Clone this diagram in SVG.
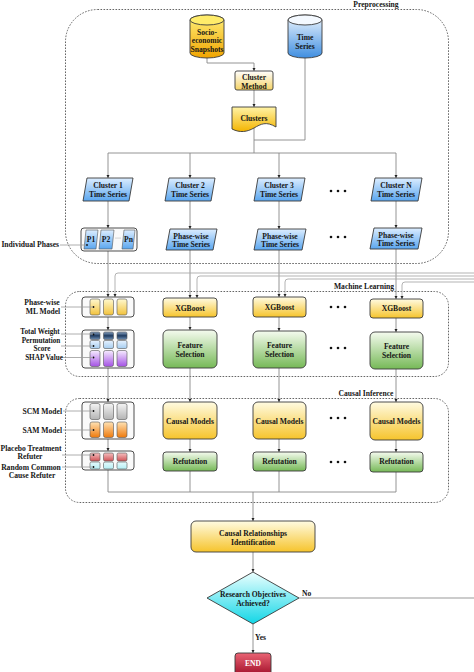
<svg xmlns="http://www.w3.org/2000/svg" width="474" height="672" viewBox="0 0 474 672">
<defs>
<linearGradient id="gYCyl" x1="0" y1="0" x2="0" y2="1"><stop offset="0" stop-color="#fff07a"/><stop offset="1" stop-color="#f0a400"/></linearGradient>
<linearGradient id="gBCyl" x1="0" y1="0" x2="0" y2="1"><stop offset="0" stop-color="#eef6ff"/><stop offset="1" stop-color="#3f8ee0"/></linearGradient>
<linearGradient id="gBPar" x1="0" y1="0" x2="0" y2="1"><stop offset="0" stop-color="#dcedff"/><stop offset="1" stop-color="#5aa6ef"/></linearGradient>
<linearGradient id="gYBox" x1="0" y1="0" x2="0" y2="1"><stop offset="0" stop-color="#fffbe2"/><stop offset="1" stop-color="#f6c42c"/></linearGradient>
<linearGradient id="gGreen" x1="0" y1="0" x2="0" y2="1"><stop offset="0" stop-color="#f5fbef"/><stop offset="1" stop-color="#76b957"/></linearGradient>
<linearGradient id="gRed" x1="0" y1="0" x2="0" y2="1"><stop offset="0" stop-color="#ea6474"/><stop offset="1" stop-color="#a3102a"/></linearGradient>
<linearGradient id="gCyan" x1="0" y1="0" x2="0" y2="1"><stop offset="0" stop-color="#ecffff"/><stop offset="1" stop-color="#12d6e6"/></linearGradient>
<linearGradient id="gCM" x1="0" y1="0" x2="0" y2="1"><stop offset="0" stop-color="#ffffff"/><stop offset="1" stop-color="#f4d264"/></linearGradient>
<linearGradient id="gDoc" x1="0" y1="0" x2="0" y2="1"><stop offset="0" stop-color="#fff3a6"/><stop offset="1" stop-color="#f3b400"/></linearGradient>
<linearGradient id="gSY" x1="0" y1="0" x2="0" y2="1"><stop offset="0" stop-color="#fff9d0"/><stop offset="1" stop-color="#f2c23c"/></linearGradient>
<linearGradient id="gSGray" x1="0" y1="0" x2="0" y2="1"><stop offset="0" stop-color="#f4f4f4"/><stop offset="1" stop-color="#b4b4b4"/></linearGradient>
<linearGradient id="gSOr" x1="0" y1="0" x2="0" y2="1"><stop offset="0" stop-color="#ffe2b4"/><stop offset="1" stop-color="#ee7a0c"/></linearGradient>
<linearGradient id="gSRed" x1="0" y1="0" x2="0" y2="1"><stop offset="0" stop-color="#f6c0c0"/><stop offset="1" stop-color="#d05458"/></linearGradient>
<linearGradient id="gSCy" x1="0" y1="0" x2="0" y2="1"><stop offset="0" stop-color="#e6fbfd"/><stop offset="1" stop-color="#b4eef4"/></linearGradient>
<linearGradient id="gSDB" x1="0" y1="0" x2="0" y2="1"><stop offset="0" stop-color="#8aa4c4"/><stop offset="0.5" stop-color="#1f3b60"/><stop offset="1" stop-color="#6f8fb4"/></linearGradient>
<linearGradient id="gSLB" x1="0" y1="0" x2="0" y2="1"><stop offset="0" stop-color="#e6f2ff"/><stop offset="1" stop-color="#a6cdf0"/></linearGradient>
<linearGradient id="gSPu" x1="0" y1="0" x2="0" y2="1"><stop offset="0" stop-color="#f6ecff"/><stop offset="1" stop-color="#a452e4"/></linearGradient>
<marker id="arr" viewBox="0 0 6 6" refX="6" refY="3" markerWidth="3.5" markerHeight="3.5" markerUnits="userSpaceOnUse" orient="auto"><path d="M0,0 L6,3 L0,6 z" fill="#222"/></marker>
</defs>
<style>
text{font-family:"Liberation Serif","Times New Roman",serif;font-weight:bold;font-size:7.6px;fill:#151515;text-anchor:middle}
.l{text-anchor:end}
.s{text-anchor:start}
.sm{font-size:7.2px}
.sec{fill:none;stroke:#555;stroke-width:0.9;stroke-dasharray:1.6 1.4}
.nb{stroke:#3a3a3a;stroke-width:0.9}
.in{stroke:#555;stroke-width:0.6}
.ct{fill:#fafafa;stroke:#3a3a3a;stroke-width:0.9}
.c{fill:none;stroke:#888;stroke-width:0.9}
.a{marker-end:url(#arr)}
.fb{fill:none;stroke:#aaa;stroke-width:0.9}
.no{fill:none;stroke:#999;stroke-width:1.2}
.lead{fill:none;stroke:#999;stroke-width:0.8}
.dot{fill:#111}
</style>

<g id="sections">
<rect class="sec" x="65.5" y="9.5" width="383" height="254" rx="32"/>
<text x="376" y="6.5">Preprocessing</text>
<rect class="sec" x="65.5" y="291.5" width="383" height="85" rx="14"/>
<text x="364" y="288.5">Machine Learning</text>
<rect class="sec" x="65.5" y="398.5" width="383" height="104" rx="14"/>
<text x="366" y="395.5">Causal Inference</text>
</g>

<g id="connectors">
<path class="c a" d="M207,58 V63 H254 V71"/>
<path class="c a" d="M254,90 V107"/>
<path class="c" d="M305,58 V140 H254"/>
<path class="c" d="M254,128 V153"/>
<path class="c" d="M108,153 H396"/>
<path class="c a" d="M108,153 V178"/>
<path class="c a" d="M190,153 V178"/>
<path class="c a" d="M279,153 V178"/>
<path class="c a" d="M396,153 V178"/>
<path class="c a" d="M108,201 V228"/>
<path class="c a" d="M190,201 V229"/>
<path class="c a" d="M279,201 V229"/>
<path class="c a" d="M396,201 V228"/>
<path class="c a" d="M108,251 V297"/>
<path class="c a" d="M190,250 V298"/>
<path class="c a" d="M279,250 V297"/>
<path class="c a" d="M396,249 V299"/>
<path class="fb a" d="M480,273 H118 Q115,273 115,276 V297"/>
<path class="fb a" d="M480,276 H200 Q197,276 197,279 V298"/>
<path class="fb a" d="M480,279 H288 Q285,279 285,282 V297"/>
<path class="fb a" d="M480,282 H405 Q402,282 402,285 V299"/>
<path class="c a" d="M108,317 V330"/>
<path class="c a" d="M190,317 V330"/>
<path class="c a" d="M279,317 V331"/>
<path class="c a" d="M396,318 V332"/>
<path class="c a" d="M108,368 V402"/>
<path class="c a" d="M190,368 V402"/>
<path class="c a" d="M279,368 V402"/>
<path class="c a" d="M396,369 V402"/>
<path class="c a" d="M108,439 V451"/>
<path class="c a" d="M190,439 V452"/>
<path class="c a" d="M279,439 V452"/>
<path class="c a" d="M396,440 V452"/>
<path class="c" d="M108,470 V492 H396 V472"/>
<path class="c" d="M190,471 V492"/>
<path class="c" d="M279,471 V492"/>
<path class="c a" d="M253,492 V521"/>
<path class="c a" d="M253,552 V572"/>
<path class="c a" d="M253,624 V653"/>
<path class="no" d="M299,598 H480 V273"/>
<text class="s" x="302" y="595.5">No</text>
<text class="s" x="255" y="639.5">Yes</text>
</g>

<g id="socio">
<path class="nb" fill="url(#gYCyl)" d="M190,20 A17,5 0 0 1 224,20 V53 A17,5 0 0 1 190,53 Z"/>
<ellipse cx="207" cy="20" rx="17" ry="5" fill="#ffec6a" class="nb"/>
<text x="207" y="34.5">Socio-</text><text x="207" y="43">economic</text><text x="207" y="51.5">Snapshots</text>
</g>
<g id="timeseries">
<path class="nb" fill="url(#gBCyl)" d="M288,20 A17,5 0 0 1 322,20 V53 A17,5 0 0 1 288,53 Z"/>
<ellipse cx="305" cy="20" rx="17" ry="5" fill="#f4f9ff" class="nb"/>
<text x="305" y="39.5">Time</text><text x="305" y="48.5">Series</text>
</g>
<g id="clustermethod">
<rect class="nb" fill="url(#gCM)" x="235" y="71" width="38" height="19" rx="2"/>
<text x="254" y="79.5">Cluster</text><text x="254" y="88.5">Method</text>
</g>
<g id="clusters">
<path class="nb" fill="url(#gDoc)" d="M232,107 H276 V127 C266,121 261,124 254,128 C247,132 240,133 232,129 Z"/>
<text x="254" y="120.5">Clusters</text>
</g>

<g id="cluster1"><polygon class="nb" fill="url(#gBPar)" stroke-linejoin="round" points="87,178 133,178 129,201 83,201"/><text x="108" y="187.5">Cluster 1</text><text x="108" y="196.5">Time Series</text></g>
<g id="cluster2"><polygon class="nb" fill="url(#gBPar)" stroke-linejoin="round" points="169,178 215,178 211,201 165,201"/><text x="190" y="187.5">Cluster 2</text><text x="190" y="196.5">Time Series</text></g>
<g id="cluster3"><polygon class="nb" fill="url(#gBPar)" stroke-linejoin="round" points="258,178 305,178 301,201 254,201"/><text x="279" y="187.5">Cluster 3</text><text x="279" y="196.5">Time Series</text></g>
<g id="clusterN"><polygon class="nb" fill="url(#gBPar)" stroke-linejoin="round" points="375,178 422,178 418,201 371,201"/><text x="396" y="187.5">Cluster N</text><text x="396" y="196.5">Time Series</text></g>

<g id="phases1">
<rect class="ct" x="81" y="228" width="56" height="23" rx="3"/>
<polygon class="in" fill="url(#gBPar)" points="86,230 98,230 96,249 84,249"/>
<polygon class="in" fill="url(#gBPar)" points="101,230 114,230 112,249 99,249"/>
<polygon class="in" fill="url(#gBPar)" points="124,230 135,230 133,249 122,249"/>
<text x="91" y="241.5">P1</text><text x="106" y="241.5">P2</text><text x="128.5" y="241.5">Pn</text>
<circle cx="116" cy="238" r="0.4" fill="#555"/><circle cx="118" cy="238" r="0.4" fill="#555"/><circle cx="120" cy="238" r="0.4" fill="#555"/>
<circle class="dot" cx="87" cy="245" r="0.9"/>
<path class="lead" d="M60,245 H86"/>
<text class="l" x="59" y="247">Individual Phases</text>
</g>
<g id="phases2"><polygon class="nb" fill="url(#gBPar)" stroke-linejoin="round" points="170,229 217,229 213,250 166,250"/><text x="191" y="238.5">Phase-wise</text><text x="191" y="246.5">Time Series</text></g>
<g id="phases3"><polygon class="nb" fill="url(#gBPar)" stroke-linejoin="round" points="258,229 306,229 302,250 254,250"/><text x="280" y="238.5">Phase-wise</text><text x="280" y="246.5">Time Series</text></g>
<g id="phasesN"><polygon class="nb" fill="url(#gBPar)" stroke-linejoin="round" points="374,228 422,228 418,249 370,249"/><text x="396" y="237.5">Phase-wise</text><text x="396" y="245.5">Time Series</text></g>

<g id="dots">
<g class="dot"><circle cx="331" cy="191" r="1.3"/><circle cx="338" cy="191" r="1.3"/><circle cx="345" cy="191" r="1.3"/></g>
<g class="dot"><circle cx="331" cy="237" r="1.3"/><circle cx="338" cy="237" r="1.3"/><circle cx="345" cy="237" r="1.3"/></g>
<g class="dot"><circle cx="331" cy="307" r="1.3"/><circle cx="338" cy="307" r="1.3"/><circle cx="345" cy="307" r="1.3"/></g>
<g class="dot"><circle cx="331" cy="348" r="1.3"/><circle cx="338" cy="348" r="1.3"/><circle cx="345" cy="348" r="1.3"/></g>
<g class="dot"><circle cx="331" cy="418" r="1.3"/><circle cx="338" cy="418" r="1.3"/><circle cx="345" cy="418" r="1.3"/></g>
<g class="dot"><circle cx="331" cy="462" r="1.3"/><circle cx="338" cy="462" r="1.3"/><circle cx="345" cy="462" r="1.3"/></g>
</g>

<g id="mlmodel1">
<rect class="ct" x="82" y="297" width="52" height="20" rx="3"/>
<rect class="in" fill="url(#gSY)" x="90" y="299" width="10" height="16" rx="2"/>
<rect class="in" fill="url(#gSY)" x="103.5" y="299" width="10" height="16" rx="2"/>
<rect class="in" fill="url(#gSY)" x="117" y="299" width="10" height="16" rx="2"/>
<circle class="dot" cx="93.5" cy="307" r="0.9"/>
<path class="lead" d="M61,307 H93"/>
<text x="42" y="304.5">Phase-wise</text><text x="43" y="313.5">ML Model</text>
</g>
<g id="weights1">
<rect class="ct" x="82" y="330" width="52" height="38" rx="3"/>
<g class="in">
<rect fill="url(#gSDB)" x="90" y="332" width="10" height="7.5" rx="1.5"/><rect fill="url(#gSLB)" x="90" y="340.5" width="10" height="8" rx="1.5"/><rect fill="url(#gSPu)" x="90" y="350.5" width="10" height="16" rx="2"/>
<rect fill="url(#gSDB)" x="103.5" y="332" width="10" height="7.5" rx="1.5"/><rect fill="url(#gSLB)" x="103.5" y="340.5" width="10" height="8" rx="1.5"/><rect fill="url(#gSPu)" x="103.5" y="350.5" width="10" height="16" rx="2"/>
<rect fill="url(#gSDB)" x="117" y="332" width="10" height="7.5" rx="1.5"/><rect fill="url(#gSLB)" x="117" y="340.5" width="10" height="8" rx="1.5"/><rect fill="url(#gSPu)" x="117" y="350.5" width="10" height="16" rx="2"/>
</g>
<circle class="dot" cx="93.5" cy="334.5" r="0.9"/><circle class="dot" cx="93.5" cy="346" r="0.9"/><circle class="dot" cx="93.5" cy="357.5" r="0.9"/>
<path class="lead" d="M61,334 H93 M61,346 H93 M61,357.5 H93"/>
<text class="sm" x="40" y="334">Total Weight</text><text class="sm" x="41" y="342.5">Permutation</text><text class="sm" x="42" y="351">Score</text><text class="sm" x="44" y="359.5">SHAP Value</text>
</g>

<g id="xgb2"><rect class="nb" fill="url(#gYBox)" x="163" y="298" width="54" height="19" rx="3"/><text x="190" y="310.5">XGBoost</text></g>
<g id="xgb3"><rect class="nb" fill="url(#gYBox)" x="253" y="297" width="53" height="20" rx="3"/><text x="279.5" y="310">XGBoost</text></g>
<g id="xgbN"><rect class="nb" fill="url(#gYBox)" x="370" y="299" width="53" height="19" rx="3"/><text x="396.5" y="311">XGBoost</text></g>

<g id="fs2"><rect class="nb" fill="url(#gGreen)" x="163" y="330" width="54" height="38" rx="5"/><text x="190" y="348">Feature</text><text x="190" y="356.5">Selection</text></g>
<g id="fs3"><rect class="nb" fill="url(#gGreen)" x="253" y="331" width="53" height="37" rx="5"/><text x="279.5" y="348">Feature</text><text x="279.5" y="356.5">Selection</text></g>
<g id="fsN"><rect class="nb" fill="url(#gGreen)" x="370" y="332" width="53" height="37" rx="5"/><text x="396.5" y="349">Feature</text><text x="396.5" y="357.5">Selection</text></g>

<g id="causal1">
<rect class="ct" x="82" y="402" width="52" height="37" rx="3"/>
<g class="in">
<rect fill="url(#gSGray)" x="90" y="403.5" width="10" height="16" rx="2"/><rect fill="url(#gSOr)" x="90" y="422" width="10" height="15.5" rx="2"/>
<rect fill="url(#gSGray)" x="103.5" y="403.5" width="10" height="16" rx="2"/><rect fill="url(#gSOr)" x="103.5" y="422" width="10" height="15.5" rx="2"/>
<rect fill="url(#gSGray)" x="117" y="403.5" width="10" height="16" rx="2"/><rect fill="url(#gSOr)" x="117" y="422" width="10" height="15.5" rx="2"/>
</g>
<circle class="dot" cx="93.5" cy="411" r="0.9"/><circle class="dot" cx="93.5" cy="430" r="0.9"/>
<path class="lead" d="M63,411 H93 M63,430 H93"/>
<text class="l" x="62" y="413.5">SCM Model</text><text class="l" x="62" y="432.5">SAM Model</text>
</g>
<g id="refuter1">
<rect class="ct" x="82" y="451" width="52" height="19" rx="3"/>
<g class="in">
<rect fill="url(#gSRed)" x="90" y="453" width="10" height="8" rx="1.5"/><rect fill="url(#gSCy)" x="90" y="462" width="10" height="7" rx="1.5"/>
<rect fill="url(#gSRed)" x="103.5" y="453" width="10" height="8" rx="1.5"/><rect fill="url(#gSCy)" x="103.5" y="462" width="10" height="7" rx="1.5"/>
<rect fill="url(#gSRed)" x="117" y="453" width="10" height="8" rx="1.5"/><rect fill="url(#gSCy)" x="117" y="462" width="10" height="7" rx="1.5"/>
</g>
<circle class="dot" cx="93.5" cy="455" r="0.9"/><circle class="dot" cx="93.5" cy="467" r="0.9"/>
<path class="lead" d="M62,455 H93 M62,467 H93"/>
<text x="31" y="450.5">Placebo Treatment</text><text x="30" y="458.5">Refuter</text><text x="31" y="469.5">Random Common</text><text x="32" y="477.5">Cause Refuter</text>
</g>

<g id="cm2"><rect class="nb" fill="url(#gYBox)" x="163" y="402" width="54" height="37" rx="5"/><text x="190" y="423.5">Causal Models</text></g>
<g id="cm3"><rect class="nb" fill="url(#gYBox)" x="253" y="402" width="53" height="37" rx="5"/><text x="279.5" y="423.5">Causal Models</text></g>
<g id="cmN"><rect class="nb" fill="url(#gYBox)" x="370" y="402" width="53" height="38" rx="5"/><text x="396.5" y="424">Causal Models</text></g>

<g id="ref2"><rect class="nb" fill="url(#gGreen)" x="163" y="452" width="54" height="19" rx="3"/><text x="190" y="463.5">Refutation</text></g>
<g id="ref3"><rect class="nb" fill="url(#gGreen)" x="253" y="452" width="53" height="19" rx="3"/><text x="279.5" y="463.5">Refutation</text></g>
<g id="refN"><rect class="nb" fill="url(#gGreen)" x="370" y="452" width="53" height="20" rx="3"/><text x="396.5" y="464">Refutation</text></g>

<g id="crid"><rect class="nb" fill="url(#gYBox)" x="191" y="521" width="124" height="31" rx="5"/><text x="253" y="535.5">Causal Relationships</text><text x="253" y="544.5">Identification</text></g>
<g id="decision"><polygon class="nb" fill="url(#gCyan)" stroke-linejoin="round" points="253,572 299,598 253,624 207,598"/><text x="253" y="596.5">Research Objectives</text><text x="253" y="605.5">Achieved?</text></g>
<g id="end"><rect class="nb" fill="url(#gRed)" x="235" y="653" width="36" height="22" rx="3"/><text x="253" y="665.5" style="fill:#fff">END</text></g>
</svg>
